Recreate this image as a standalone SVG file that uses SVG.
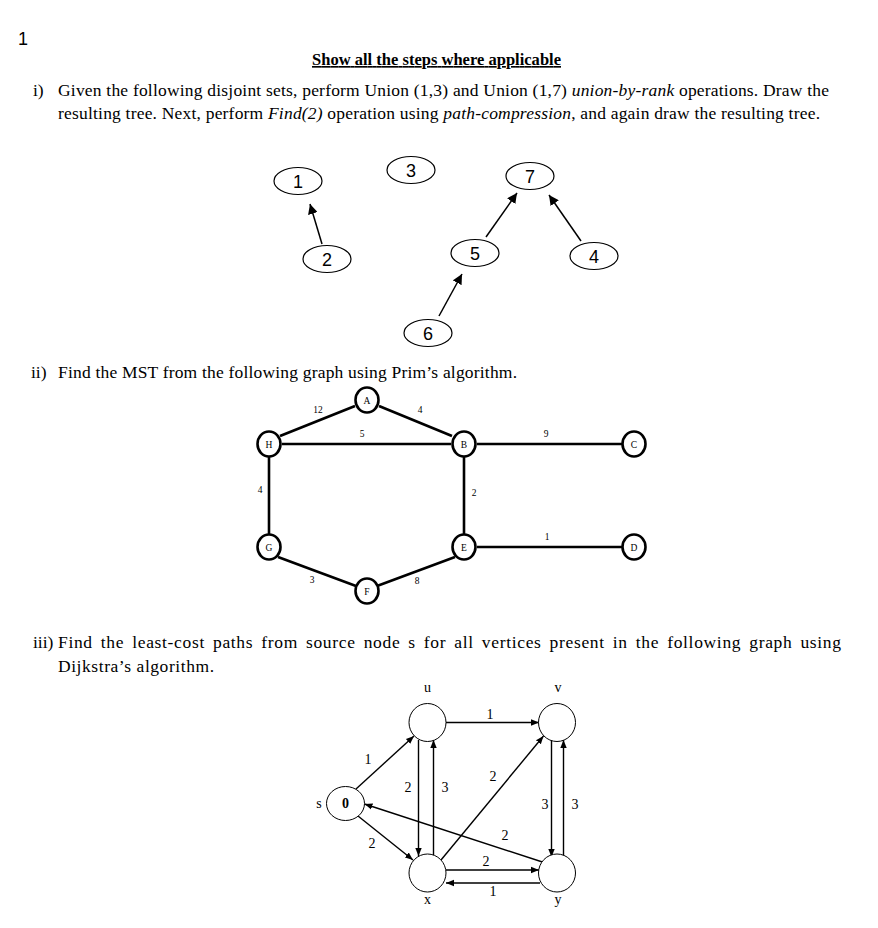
<svg xmlns="http://www.w3.org/2000/svg" width="878" height="928" viewBox="0 0 878 928">
<style>
.t{font-family:"Liberation Serif","Times New Roman",serif;font-size:17.5px;fill:#000}
.it{font-style:italic}
.s1n{font-family:"Liberation Sans",Arial,sans-serif;font-size:18px;text-anchor:middle;fill:#000}
.e1{fill:#fff;stroke:#000;stroke-width:1.2}
.a1{stroke:#000;stroke-width:1.5;fill:none}
.e2{fill:#fff;stroke:#000;stroke-width:2.6}
.l2{stroke:#000;stroke-width:2.6;fill:none}
.n2{font-family:"Liberation Serif","Times New Roman",serif;font-size:9.5px;text-anchor:middle;fill:#000}
.e3{fill:#fff;stroke:#000;stroke-width:1}
.a3{stroke:#000;stroke-width:1.4;fill:none}
.n3{font-family:"Liberation Serif","Times New Roman",serif;font-size:14px;text-anchor:middle;fill:#000}
</style>
<defs>
<marker id="ah1" markerUnits="userSpaceOnUse" markerWidth="12" markerHeight="10" refX="10" refY="5" orient="auto">
<path d="M0,0 L10,5 L0,10 z" fill="#000"/>
</marker>
<marker id="ah3" markerUnits="userSpaceOnUse" markerWidth="10" markerHeight="8" refX="8" refY="4" orient="auto">
<path d="M0,0.8 L8,4 L0,7.2 z" fill="#000"/>
</marker>
</defs>

<g id="header">
<text x="18" y="45" style="font-family:'Liberation Sans',Arial,sans-serif;font-size:18px">1</text>
<text x="312" y="65" class="t" style="font-weight:bold;text-decoration:underline;font-size:16.5px" textLength="249">Show all the steps where applicable</text>
<text x="33" y="96" class="t">i)</text>
<text x="58" y="96" class="t" textLength="771">Given the following disjoint sets, perform Union (1,3) and Union (1,7) <tspan class="it">union-by-rank</tspan> operations. Draw the</text>
<text x="58" y="119" class="t" textLength="762">resulting tree. Next, perform <tspan class="it">Find(2)</tspan> operation using <tspan class="it">path-compression</tspan>, and again draw the resulting tree.</text>
<text x="31" y="378" class="t">ii)</text>
<text x="58" y="378" class="t" textLength="459">Find the MST from the following graph using Prim’s algorithm.</text>
<text x="33" y="648" class="t">iii)</text>
<text x="58" y="648" class="t" style="word-spacing:3px" textLength="783">Find the least-cost paths from source node s for all vertices present in the following graph using</text>
<text x="58" y="672" class="t" textLength="156">Dijkstra’s algorithm.</text>
</g>

<g id="connectors-i">
<line class="a1" x1="322" y1="244" x2="310" y2="204" marker-end="url(#ah1)"/>
<line class="a1" x1="486" y1="237" x2="517" y2="193" marker-end="url(#ah1)"/>
<line class="a1" x1="581" y1="241" x2="549" y2="195" marker-end="url(#ah1)"/>
<line class="a1" x1="439" y1="316" x2="462" y2="274" marker-end="url(#ah1)"/>
</g>
<g id="set1"><ellipse class="e1" cx="298" cy="181" rx="24" ry="13.5"/><text class="s1n" x="298" y="187.5">1</text></g>
<g id="set3"><ellipse class="e1" cx="411" cy="170" rx="24" ry="13.5"/><text class="s1n" x="411" y="176.5">3</text></g>
<g id="set7"><ellipse class="e1" cx="530" cy="176" rx="24" ry="13.5"/><text class="s1n" x="530" y="182.5">7</text></g>
<g id="set2"><ellipse class="e1" cx="327" cy="259" rx="24" ry="13.5"/><text class="s1n" x="327" y="265.5">2</text></g>
<g id="set5"><ellipse class="e1" cx="475" cy="253" rx="24" ry="13.5"/><text class="s1n" x="475" y="259.5">5</text></g>
<g id="set4"><ellipse class="e1" cx="594" cy="256" rx="24" ry="13.5"/><text class="s1n" x="594" y="262.5">4</text></g>
<g id="set6"><ellipse class="e1" cx="428" cy="333" rx="24" ry="13.5"/><text class="s1n" x="428" y="339.5">6</text></g>

<g id="connectors-ii">
<line class="l2" x1="280" y1="436" x2="355" y2="406"/>
<line class="l2" x1="379" y1="406" x2="452" y2="436"/>
<line class="l2" x1="282" y1="444" x2="451" y2="444"/>
<line class="l2" x1="477" y1="444" x2="622" y2="444"/>
<line class="l2" x1="269" y1="457" x2="269" y2="534"/>
<line class="l2" x1="464" y1="457" x2="464" y2="534"/>
<line class="l2" x1="477" y1="547" x2="622" y2="547"/>
<line class="l2" x1="278" y1="557" x2="356" y2="586"/>
<line class="l2" x1="377" y1="586" x2="455" y2="557"/>
<text class="n2" x="318" y="413">12</text>
<text class="n2" x="420" y="413">4</text>
<text class="n2" x="362" y="437">5</text>
<text class="n2" x="546" y="437">9</text>
<text class="n2" x="260" y="493">4</text>
<text class="n2" x="474" y="496">2</text>
<text class="n2" x="547" y="540">1</text>
<text class="n2" x="312" y="583">3</text>
<text class="n2" x="417" y="584">8</text>
</g>
<g id="A"><ellipse class="e2" cx="367" cy="400" rx="11.5" ry="12.5"/><text class="n2" x="367" y="403.5">A</text></g>
<g id="H"><ellipse class="e2" cx="269" cy="444" rx="11.5" ry="12.5"/><text class="n2" x="269" y="447.5">H</text></g>
<g id="B"><ellipse class="e2" cx="464" cy="444" rx="11.5" ry="12.5"/><text class="n2" x="464" y="447.5">B</text></g>
<g id="C"><ellipse class="e2" cx="634" cy="444" rx="11.5" ry="12.5"/><text class="n2" x="634" y="447.5">C</text></g>
<g id="G"><ellipse class="e2" cx="269" cy="547" rx="11.5" ry="12.5"/><text class="n2" x="269" y="550.5">G</text></g>
<g id="E"><ellipse class="e2" cx="464" cy="547" rx="11.5" ry="12.5"/><text class="n2" x="464" y="550.5">E</text></g>
<g id="D"><ellipse class="e2" cx="634" cy="547" rx="11.5" ry="12.5"/><text class="n2" x="634" y="550.5">D</text></g>
<g id="F"><ellipse class="e2" cx="367" cy="591" rx="11.5" ry="12.5"/><text class="n2" x="367" y="594.5">F</text></g>

<g id="connectors-iii">
<line class="a3" x1="446" y1="722.5" x2="539" y2="722.5" marker-end="url(#ah3)"/>
<line class="a3" x1="356" y1="789" x2="414" y2="736" marker-end="url(#ah3)"/>
<line class="a3" x1="418.5" y1="740" x2="418.5" y2="856" marker-end="url(#ah3)"/>
<line class="a3" x1="433.5" y1="856" x2="433.5" y2="740" marker-end="url(#ah3)"/>
<line class="a3" x1="441" y1="860" x2="543.5" y2="736" marker-end="url(#ah3)"/>
<line class="a3" x1="551.5" y1="740" x2="551.5" y2="857" marker-end="url(#ah3)"/>
<line class="a3" x1="563.5" y1="857" x2="563.5" y2="740" marker-end="url(#ah3)"/>
<line class="a3" x1="545.5" y1="863" x2="364.5" y2="804" marker-end="url(#ah3)"/>
<line class="a3" x1="358" y1="816" x2="413" y2="860" marker-end="url(#ah3)"/>
<line class="a3" x1="446" y1="870" x2="539" y2="870" marker-end="url(#ah3)"/>
<line class="a3" x1="540" y1="883" x2="446" y2="883" marker-end="url(#ah3)"/>
<text class="n3" x="490" y="719">1</text>
<text class="n3" x="368" y="764">1</text>
<text class="n3" x="408" y="792">2</text>
<text class="n3" x="445" y="792">3</text>
<text class="n3" x="493" y="781">2</text>
<text class="n3" x="545" y="809">3</text>
<text class="n3" x="575" y="809">3</text>
<text class="n3" x="505" y="840">2</text>
<text class="n3" x="372" y="848">2</text>
<text class="n3" x="486" y="866">2</text>
<text class="n3" x="493" y="896">1</text>
</g>
<g id="s"><ellipse class="e3" cx="345.5" cy="803.5" rx="19" ry="17"/><text class="n3" x="345.5" y="808" style="font-weight:bold">0</text><text class="n3" x="319" y="808">s</text></g>
<g id="u"><ellipse class="e3" cx="427.5" cy="722.5" rx="18.5" ry="19"/><text class="n3" x="427.5" y="692">u</text></g>
<g id="v"><ellipse class="e3" cx="557" cy="722.5" rx="18.5" ry="19"/><text class="n3" x="558" y="692">v</text></g>
<g id="x"><ellipse class="e3" cx="427.5" cy="873" rx="18.5" ry="19"/><text class="n3" x="427.5" y="904">x</text></g>
<g id="y"><ellipse class="e3" cx="557" cy="873" rx="18.5" ry="19"/><text class="n3" x="558" y="904">y</text></g>
</svg>
